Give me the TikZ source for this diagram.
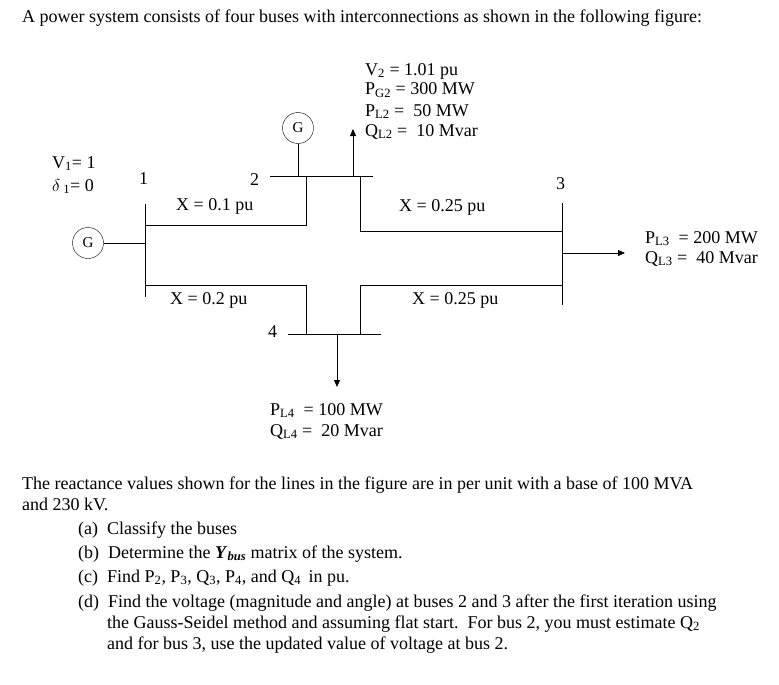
\documentclass[tikz,border=0pt]{standalone}
\usepackage{fontspec}
\setmainfont{Liberation Serif}
\usetikzlibrary{arrows.meta}
\begin{document}
\begin{tikzpicture}[x=1pt,y=-1pt,
  wire/.style={line width=0.8pt},
  load/.style={line width=0.8pt,-{Triangle[length=7pt,width=6pt]}},
  gen/.style={draw,circle,minimum size=31pt,inner sep=0pt,font=\fontsize{15}{15}\selectfont},
  txt/.style={anchor=base west,inner sep=0pt,font=\fontsize{18}{21}\selectfont}]
\useasboundingbox (0,0) rectangle (779,685);
\fill[white] (0,0) rectangle (779,685);
% buses
\coordinate (b1t) at (145,204); \coordinate (b1b) at (145,297);
\coordinate (b2l) at (270,176); \coordinate (b2r) at (373,176);
\coordinate (b3t) at (562,203); \coordinate (b3b) at (562,305);
\coordinate (b4l) at (288,334); \coordinate (b4r) at (381,334);
\draw[wire] (b1t)--(b1b);
\draw[wire] (b2l)--(b2r);
\draw[wire] (b3t)--(b3b);
\draw[wire] (b4l)--(b4r);
% generators
\node[gen] (g1) at (88,243) {G};
\node[gen] (g2) at (298,128) {G};
\draw[wire] (g1.east)--(145,243);
\draw[wire] (g2.south)--(298,176);
% lines
\draw[wire] (145,225)--(306,225)--(306,176);
\draw[wire] (360,176)--(360,231)--(562,231);
\draw[wire] (145,285)--(306,285)--(306,334);
\draw[wire] (360,334)--(360,285)--(562,285);
% loads
\coordinate (a2) at (353,129); \coordinate (a3) at (625,253); \coordinate (a4) at (337,387);
\draw[load] (353,176)--(a2);
\draw[load] (562,253)--(a3);
\draw[load] (337,334)--(a4);
% labels
\node[txt] (t0) at (22,23) {A power system consists of four buses with interconnections as shown in the following figure:};
\node[txt] (v1) at (52,168) {V\textsubscript{1}= 1};
\node[txt] (d1) at (52,191) {$\delta$\,\textsubscript{1}= 0};
\node[txt] (n1) at (139,184) {1};
\node[txt] (n2) at (250,185) {2};
\node[txt] (n3) at (556,189) {3};
\node[txt] (n4) at (268,337) {4};
\node[txt] (x12) at (176,210) {X = 0.1 pu};
\node[txt] (x23) at (399,211) {X = 0.25 pu};
\node[txt] (x14) at (170,304) {X = 0.2 pu};
\node[txt] (x43) at (412,304) {X = 0.25 pu};
\node[txt] (l21) at (365,75) {V\textsubscript{2} = 1.01 pu};
\node[txt] (l22) at (365,95) {P\textsubscript{G2} = 300 MW};
\node[txt] (l23) at (365,116) {P\textsubscript{L2} =\enspace 50 MW};
\node[txt] (l24) at (365,136) {Q\textsubscript{L2} =\enspace 10 Mvar};
\node[txt] (l31) at (645,243) {P\textsubscript{L3}\enspace = 200 MW};
\node[txt] (l32) at (645,263) {Q\textsubscript{L3} =\enspace 40 Mvar};
\node[txt] (l41) at (270,415) {P\textsubscript{L4}\enspace = 100 MW};
\node[txt] (l42) at (270,436) {Q\textsubscript{L4} =\enspace 20 Mvar};
\node[txt] (p1) at (22,489) {The reactance values shown for the lines in the figure are in per unit with a base of 100 MVA};
\node[txt] (p2) at (22,510) {and 230 kV.};
\node[txt] (ia) at (78,534) {(a)\enspace Classify the buses};
\node[txt] (ib) at (78,558) {(b)\enspace Determine the \textbf{\textit{Y}}\textsubscript{\textbf{\textit{bus}}} matrix of the system.};
\node[txt] (ic) at (78,582) {(c)\enspace Find P\textsubscript{2}, P\textsubscript{3}, Q\textsubscript{3}, P\textsubscript{4}, and Q\textsubscript{4}\, in pu.};
\node[txt] (id) at (78,607) {(d)\enspace Find the voltage (magnitude and angle) at buses 2 and 3 after the first iteration using};
\node[txt] (id2) at (107,628) {the Gauss-Seidel method and assuming flat start.\enspace For bus 2, you must estimate Q\textsubscript{2}};
\node[txt] (id3) at (107,649) {and for bus 3, use the updated value of voltage at bus 2.};
\end{tikzpicture}
\end{document}
